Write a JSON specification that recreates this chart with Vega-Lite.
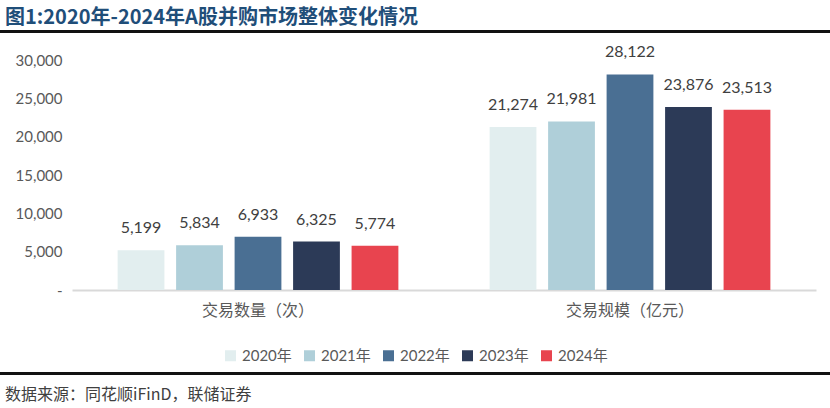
{
  "$schema": "https://vega.github.io/schema/vega-lite/v6.json",
  "background": "white",
  "padding": {"left": 0, "right": 0, "top": 8, "bottom": 0},
  "spacing": 4,
  "resolve": {"legend": {"color": "independent"}, "scale": {"color": "independent"}},
  "config": {
    "view": {"stroke": null},
    "font": "Noto Sans CJK SC",
    "legend": {"layout": {"bottom": {"anchor": "middle"}}}
  },
  "datasets": {
    "bars": [
      {"cat": "交易数量（次）", "year": "2020年", "value": 5199},
      {"cat": "交易数量（次）", "year": "2021年", "value": 5834},
      {"cat": "交易数量（次）", "year": "2022年", "value": 6933},
      {"cat": "交易数量（次）", "year": "2023年", "value": 6325},
      {"cat": "交易数量（次）", "year": "2024年", "value": 5774},
      {"cat": "交易规模（亿元）", "year": "2020年", "value": 21274},
      {"cat": "交易规模（亿元）", "year": "2021年", "value": 21981},
      {"cat": "交易规模（亿元）", "year": "2022年", "value": 28122},
      {"cat": "交易规模（亿元）", "year": "2023年", "value": 23876},
      {"cat": "交易规模（亿元）", "year": "2024年", "value": 23513}
    ],
    "empty": []
  },
  "vconcat": [
    {
      "width": 830,
      "height": 3,
      "view": {"fill": "#111111", "stroke": null},
      "title": {
        "text": "图1:2020年-2024年A股并购市场整体变化情况",
        "anchor": "start",
        "dx": 5,
        "fontSize": 20,
        "fontWeight": "bold",
        "color": "#1f4e79",
        "font": "Noto Sans CJK SC",
        "offset": 2
      },
      "data": {"name": "empty"},
      "mark": "point",
      "encoding": {}
    },
    {
      "width": 830,
      "height": 253,
      "data": {"name": "bars"},
      "encoding": {
        "x": {
          "field": "cat",
          "type": "nominal",
          "sort": ["交易数量（次）", "交易规模（亿元）"],
          "scale": {"range": [72, 816], "paddingInner": 0, "paddingOuter": 0},
          "axis": {
            "title": null,
            "labelAngle": 0,
            "labelFontSize": 16,
            "labelColor": "#595959",
            "labelPadding": 12,
            "ticks": false,
            "domainColor": "#d9d9d9",
            "domainWidth": 2,
            "labelFont": "Noto Sans CJK SC"
          }
        },
        "xOffset": {
          "field": "year",
          "type": "nominal",
          "scale": {"paddingInner": 0.2, "paddingOuter": 0.78}
        },
        "y": {
          "field": "value",
          "type": "quantitative",
          "scale": {"domain": [0, 33000], "nice": false},
          "axis": {
            "values": [0, 5000, 10000, 15000, 20000, 25000, 30000],
            "labelExpr": "datum.value === 0 ? '-' : format(datum.value, ',')",
            "title": null,
            "grid": false,
            "domain": false,
            "ticks": false,
            "tickSize": 0,
            "offset": -72,
            "labelPadding": 10,
            "labelFontSize": 15,
            "labelColor": "#595959",
            "labelFont": "Lato"
          }
        }
      },
      "layer": [
        {
          "mark": {"type": "bar"},
          "encoding": {
            "color": {
              "field": "year",
              "type": "nominal",
              "scale": {
                "domain": ["2020年", "2021年", "2022年", "2023年", "2024年"],
                "range": ["#e2eeef", "#afcfd9", "#4a6f93", "#2c3a57", "#e8444f"]
              },
              "legend": {
                "orient": "bottom",
                "direction": "horizontal",
                "title": null,
                "symbolType": "square",
                "symbolSize": 121,
                "symbolStrokeWidth": 0,
                "labelFontSize": 15,
                "labelColor": "#595959",
                "labelFont": "Lato, Noto Sans CJK SC",
                "offset": 26,
                "padding": 4,
                "columnPadding": 10
              }
            }
          }
        },
        {
          "mark": {
            "type": "text",
            "baseline": "alphabetic",
            "dy": -17,
            "fontSize": 16,
            "font": "Lato",
            "color": "#404040"
          },
          "encoding": {
            "text": {"field": "value", "type": "quantitative", "format": ","}
          }
        }
      ]
    },
    {
      "width": 830,
      "height": 3,
      "view": {"fill": "#111111", "stroke": null},
      "title": {
        "text": "数据来源：同花顺iFinD，联储证券",
        "orient": "bottom",
        "anchor": "start",
        "dx": 5,
        "fontSize": 16,
        "fontWeight": "normal",
        "color": "#404040",
        "font": "Noto Sans CJK SC",
        "offset": 12
      },
      "data": {"name": "empty"},
      "mark": "point",
      "encoding": {}
    }
  ]
}
